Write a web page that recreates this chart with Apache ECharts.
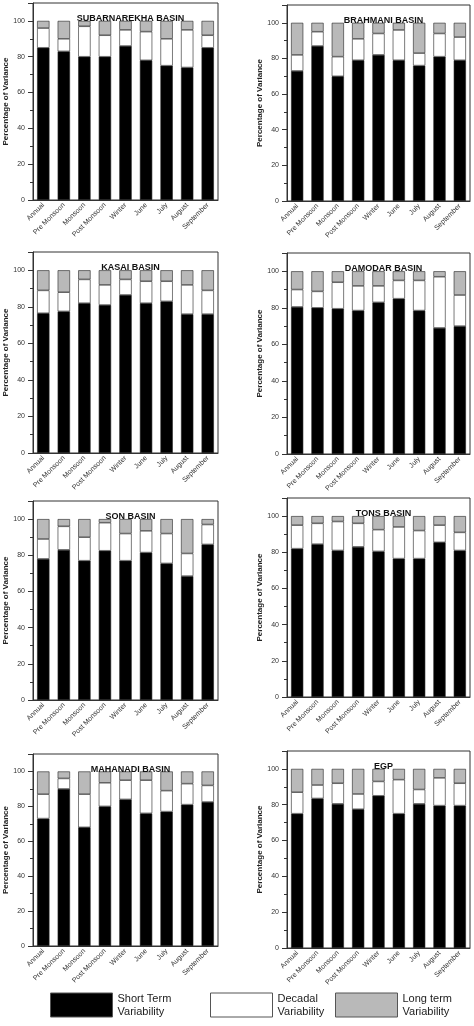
<!DOCTYPE html>
<html><head><meta charset="utf-8">
<script src="https://cdn.jsdelivr.net/npm/echarts@6/dist/echarts.min.js"></script>
<style>html,body{margin:0;padding:0;background:#fff}#c{width:474px;height:1026px}</style>
</head><body><div id="c"></div>
<script>
const categories = ['Annual','Pre Monsoon','Monsoon','Post Monsoon','Winter','June','July','August','September'];
const basins = ['SUBARNAREKHA BASIN','BRAHMANI BASIN','KASAI BASIN','DAMODAR BASIN','SON BASIN','TONS BASIN','MAHANADI BASIN','EGP'];
// short-term variability (%)
const shortSubarnarekha = [85,83,80,80,86,78,75,74,85];
const shortBrahmani = [73,87,70,79,82,79,76,81,79];
const shortKasai = [76.5,77.5,82,81,86.5,82,83,76,76];
const shortDamodar = [80.5,80,79.5,78.5,83,85,78.5,69,70];
const shortSon = [78,83,77,82.5,77,81.5,75.5,68.5,86];
const shortTons = [82,84.5,81,83,80.5,76.5,76.5,85.5,81];
const shortMahanadi = [73,90,68,80,84,76,77,81,82.5];
const shortEGP = [75,83.5,80.5,77.5,85,75,80.5,79.5,79.5];
// decadal variability (%)
const decSubarnarekha = [11,7,17,12,9,16,15,21,7];
const decBrahmani = [9,8,11,12,12,17,7,13,13];
const decKasai = [12.5,10.5,13,11,8.5,12,11,16,13];
const decDamodar = [9.5,9,14.5,13.5,9,10,16.5,28,17];
const decSon = [11,13,13,15.5,15,12,16.5,12.5,11];
const decTons = [13,11.5,16,13,12,17.5,15.5,9.5,10];
const decMahanadi = [14,6,19,13.5,11,19,12,12,9.5];
const decEGP = [12,7.5,11.5,8.5,8,19,8,15.5,12.5];
// long-term variability (%)
const longSubarnarekha = [4,10,3,8,5,6,10,5,8];
const longBrahmani = [18,5,19,9,6,4,17,6,8];
const longKasai = [11,12,5,8,5,6,6,8,11];
const longDamodar = [10,11,6,8,8,5,5,3,13];
const longSon = [11,4,10,2,8,6.5,8,19,3];
const longTons = [5,4,3,4,7.5,6,8,5,9];
const longMahanadi = [13,4,13,6.5,5,5,11,7,8];
const longEGP = [13,9,8,14,7,6,11.5,5,8];
const yTicks = [0,20,40,60,80,100];

const shortAll=[shortSubarnarekha,shortBrahmani,shortKasai,shortDamodar,shortSon,shortTons,shortMahanadi,shortEGP];
const decAll=[decSubarnarekha,decBrahmani,decKasai,decDamodar,decSon,decTons,decMahanadi,decEGP];
const longAll=[longSubarnarekha,longBrahmani,longKasai,longDamodar,longSon,longTons,longMahanadi,longEGP];
const names=['Short Term\nVariability','Decadal\nVariability','Long term\nVariability'];
const colors=['#000','#fff','#b9b9b9'];

const boxes=[[33,3,218,200],[287,5,470,201],[33,252,218,453],[287,253,470,454],[33,501,218,700],[287,498,470,697],[33,754,218,946],[287,751,470,948]];
const grid=[],xAxis=[],yAxis=[],series=[],title=[];
boxes.forEach((b,i)=>{
  grid.push({left:b[0],top:b[1],width:b[2]-b[0],height:b[3]-b[1],show:true,borderColor:'#333',borderWidth:1});
  xAxis.push({type:'category',gridIndex:i,data:categories,axisLine:{lineStyle:{color:'#333'}},axisTick:{alignWithLabel:false,lineStyle:{color:'#333'}},
    axisLabel:{rotate:45,fontSize:7,color:'#333',interval:0,margin:4,fontFamily:'Liberation Sans'}});
  yAxis.push({type:'value',gridIndex:i,min:0,max:110,interval:20,name:'Percentage of Variance',nameLocation:'middle',nameGap:20,
    nameTextStyle:{fontSize:8,fontWeight:'bold',color:'#222',fontFamily:'Liberation Sans'},
    axisLine:{show:true,lineStyle:{color:'#333'}},axisTick:{show:true,lineStyle:{color:'#333'}},minorTick:{show:true,splitNumber:2},
    splitLine:{show:false},axisLabel:{fontSize:7,color:'#333',formatter:v=>yTicks.includes(v)?v:''}});
  title.push({text:basins[i],left:(b[0]+b[2])/2,top:b[1]+6,textAlign:'center',textStyle:{fontSize:9,fontWeight:'bold',color:'#111',fontFamily:'Liberation Sans'}});
  [shortAll[i],decAll[i],longAll[i]].forEach((d,k)=>{
    series.push({type:'bar',name:names[k],stack:'s'+i,xAxisIndex:i,yAxisIndex:i,data:d,barWidth:'60%',
      itemStyle:{color:colors[k],borderColor:'#222',borderWidth:0.6}});
  });
});
const legendPos=[[45,987],[205,987],[330,987]];
const legend=names.map((n,k)=>({data:[{name:n,icon:'rect'}],left:legendPos[k][0],top:legendPos[k][1],itemWidth:62,itemHeight:24,itemGap:10,
  textStyle:{fontSize:11,color:'#222',lineHeight:13,fontFamily:'Liberation Sans'},itemStyle:{borderColor:'#555',borderWidth:1}}));
const chart=echarts.init(document.getElementById('c'));
chart.setOption({animation:false,title,grid,xAxis,yAxis,series,legend});
</script></body></html>
